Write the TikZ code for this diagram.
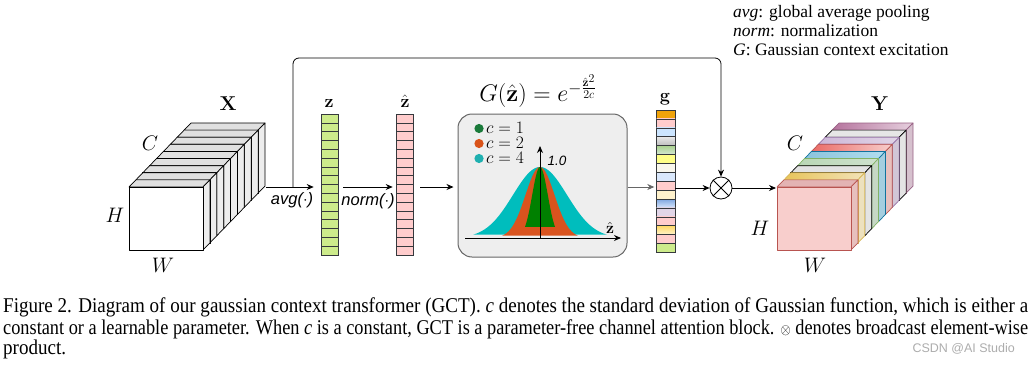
\RequirePackage{fix-cm}
\documentclass[tikz,border=0pt]{standalone}
\usepackage{amsmath}
\usepackage[no-math]{fontspec}
\setmainfont{Liberation Serif}
\newfontfamily\lsans{Liberation Sans}
\usetikzlibrary{arrows.meta,shadings}
\definecolor{zgreen}{HTML}{CDEB8B}
\definecolor{zpink}{HTML}{FFCCCC}
\definecolor{cellstroke}{HTML}{36393D}
\definecolor{boxfill}{HTML}{EEEEEE}
\definecolor{boxline}{HTML}{666666}
\definecolor{gcyan}{HTML}{00BDBD}
\definecolor{gorange}{HTML}{D9531E}
\definecolor{ggreen}{HTML}{008000}
\definecolor{dgreen}{HTML}{1A7A3A}
\definecolor{dorange}{HTML}{D95319}
\definecolor{dteal}{HTML}{1FB0B0}
\tikzset{
  conn/.style={line width=0.8pt,-{Stealth[length=7pt,width=6pt]}},
  lbl/.style={inner sep=0pt},
  cellbox/.style={draw=cellstroke,line width=0.6pt},
  facelw/.style={line width=0.7pt,line join=round},
}
% slab: #1 x0, #2 y0, #3 k, #4 fill, #5 stroke, #6 top-left colour, #7 top-right colour (all HTML)
\newcommand\cslab[7]{%
  \definecolor{csfill}{HTML}{#4}%
  \definecolor{csline}{HTML}{#5}%
  \definecolor{cstl}{HTML}{#6}%
  \definecolor{cstr}{HTML}{#7}%
  \pgfmathsetmacro\cslx{#1+#3*6.889}%
  \pgfmathsetmacro\csly{#2-#3*7.111}%
  \shadedraw[facelw,draw=csline,left color=cstl,right color=cstr] (\cslx,\csly) -- ++(74,0) -- ++(6.889,-7.111) -- ++(-74,0) -- cycle;
  \filldraw[facelw,draw=csline,fill=csfill!93!black] (\cslx+74,\csly) -- ++(0,63) -- ++(6.889,-7.111) -- ++(0,-63) -- cycle;
  \filldraw[facelw,draw=csline,fill=csfill] (\cslx,\csly) rectangle ++(74,63);
}
\newlength\capw
\newlength\capwb
\newcommand\capfont{\fontsize{21}{24}\selectfont}
\newcommand\capA{Figure 2. Diagram of our gaussian context transformer (GCT). \textit{c} denotes the standard deviation of Gaussian function, which is either a}
\newcommand\capB{constant or a learnable parameter. When \textit{c} is a constant, GCT is a parameter-free channel attention block. {\fontsize{15}{16}\selectfont$\otimes$} denotes broadcast element-wise}
\begin{document}
\settowidth\capw{\capfont\capA}%
\settowidth\capwb{\capfont\capB}%
\pgfmathsetmacro\capsx{1025/\capw}%
\pgfmathsetmacro\capsxb{1025/\capwb}%
\begin{tikzpicture}[x=1pt,y=-1pt]
\useasboundingbox[fill=white] (0,0) rectangle (1032,364);

% ---------- X cube ----------
\foreach \k in {8,7,...,0}{\cslab{129}{187}{\k}{FFFFFF}{000000}{E0E0E0}{E0E0E0}}
\node[lbl,font=\fontsize{20}{24}\selectfont] (Xl) at (228,104) {$\mathbf{X}$};
\node[lbl,font=\fontsize{21}{24}\selectfont] (XC) at (150,143) {$C$};
\node[lbl,font=\fontsize{21}{24}\selectfont] (XH) at (115,215) {$H$};
\node[lbl,font=\fontsize{21}{24}\selectfont] (XW) at (163,265) {$W$};
\coordinate (xout) at (266,187);
\coordinate (branch) at (293,187);

% ---------- z vector ----------
\node[cellbox,fill=zgreen,minimum width=17pt,minimum height=141pt,inner sep=0pt] (z) at (329.5,184.5) {};
\foreach \i in {1,...,15}{\draw[cellstroke,line width=0.6pt] (321,114+\i*8.8125) -- (338,114+\i*8.8125);}
\node[lbl,font=\fontsize{18}{20}\selectfont] (zl) at (329,103) {$\mathbf{z}$};

% ---------- zhat vector ----------
\node[cellbox,fill=zpink,minimum width=17pt,minimum height=141pt,inner sep=0pt] (zh) at (404.5,184.5) {};
\foreach \i in {1,...,15}{\draw[cellstroke,line width=0.6pt] (396,114+\i*8.8125) -- (413,114+\i*8.8125);}
\node[lbl,font=\fontsize{18}{20}\selectfont] (zhl) at (405,101) {$\hat{\mathbf{z}}$};

% ---------- arrows 1 ----------
\draw[conn,shorten >=7pt] (xout) -- (xout -| z.west);
\node[lbl,font=\lsans\itshape\fontsize{16.5}{18}\selectfont] (avgl) at (292,200) {avg($\cdot$)};
\draw[conn,shorten <=5pt,shorten >=3pt] (z.east |- xout) -- (zh.west |- xout);
\node[lbl,font=\lsans\itshape\fontsize{16.5}{18}\selectfont] (norml) at (368,201) {norm($\cdot$)};

% ---------- Gaussian box ----------
\node[draw=boxline,fill=boxfill,line width=1pt,rounded corners=14pt,minimum width=169pt,minimum height=143pt,inner sep=0pt] (gbox) at (542.5,185.5) {};
\draw[conn,shorten <=7pt,shorten >=4pt] (zh.east |- xout) -- (gbox.west |- xout);
\node[lbl,font=\fontsize{24}{28}\selectfont] (eq) at (538,91) {$G(\hat{\mathbf{z}})=e^{-\frac{\hat{\mathbf{z}}^2}{2c}}$};

\fill[gcyan] plot[domain=-67:67,samples=90] ({540+\x},{238-71*exp(-(\x*\x)/(2*27*27))}) -- cycle;
\fill[gorange] plot[domain=-38:38,samples=80] ({540+\x},{238-71*exp(-(\x*\x)/(2*14.5*14.5))}) -- cycle;
\fill[ggreen] plot[domain=-15:15,samples=60] ({540+\x},{238-71*exp(-(\x*\x)/(2*7.8*7.8))}) -- cycle;
\coordinate (ax0) at (465,238);
\coordinate (ax1) at (621,238);
\coordinate (ay0) at (540,238);
\coordinate (ay1) at (540,146);
\draw[line width=1pt,-{Stealth[length=7pt,width=6pt]}] (ax0) -- (ax1);
\draw[line width=1pt,-{Stealth[length=7pt,width=6pt]}] (ay0) -- (ay1);
\node[lbl,font=\lsans\itshape\fontsize{13.5}{15}\selectfont] (one) at (557,161) {1.0};
\node[lbl,font=\fontsize{16}{17}\selectfont] (zax) at (610,228) {$\hat{\mathbf{z}}$};
\fill[dgreen] (479,128.5) circle (4.6pt);
\fill[dorange] (479,143.5) circle (4.6pt);
\fill[dteal] (479,158.5) circle (4.6pt);
\node[lbl,anchor=west,font=\fontsize{17.5}{18}\selectfont] (c1) at (486,128) {$c=1$};
\node[lbl,anchor=west,font=\fontsize{17.5}{18}\selectfont] (c2) at (486,143) {$c=2$};
\node[lbl,anchor=west,font=\fontsize{17.5}{18}\selectfont] (c4) at (486,158) {$c=4$};

% ---------- g vector ----------
\foreach \i/\ct/\cb in {0/F0A30A/F0A30A,1/FFCCCC/FFCCCC,2/CCE5FF/CCE5FF,3/E8E8E8/BDBDBD,4/A9D18E/D5E8D4,5/FFFF88/FFFF88,6/F9F7ED/F9F7ED,7/DAE8FC/DAE8FC,8/FFCCCC/FFCCCC,9/FFF2CC/FFF2CC,10/7EA6E0/DAE8FC,11/E1D5E7/E1D5E7,12/FFCCCC/FFCCCC,13/FFD966/FFF2CC,14/FFCCCC/FFCCCC,15/CDEB8B/CDEB8B}{
  \definecolor{gct}{HTML}{\ct}\definecolor{gcb}{HTML}{\cb}
  \shadedraw[cellbox,top color=gct,bottom color=gcb] (656.5,110+\i*8.9) rectangle ++(18.5,8.9);
}
\node[lbl,minimum width=18.5pt,minimum height=142.4pt] (g) at (665.75,181.2) {};
\node[lbl,font=\fontsize{18}{20}\selectfont] (gl) at (665,99) {$\mathbf{g}$};
\draw[conn,draw=boxline,shorten >=2pt] (gbox.east |- xout) -- (g.west |- xout);

% ---------- otimes ----------
\node[draw,circle,line width=0.8pt,minimum size=22pt,inner sep=0pt] (ot) at (721,188) {};
\draw[line width=0.8pt] (ot.north west) -- (ot.south east) (ot.north east) -- (ot.south west);
\draw[conn] (g.east |- ot) -- (ot.west);
\draw[conn,rounded corners=6pt] (branch) -- (293,58) -- (721,58) -- (ot.north);

% ---------- Y cube ----------
\cslab{777}{187}{8}{E6D0DE}{996185}{B5739D}{E6D0DE}
\cslab{777}{187}{7}{F5F5F5}{000000}{E6E6E6}{E6E6E6}
\cslab{777}{187}{6}{E1D5E7}{9673A6}{CDB8D8}{E1D5E7}
\cslab{777}{187}{5}{F8CECC}{B85450}{EA6B66}{F8CECC}
\cslab{777}{187}{4}{B1DDF0}{10739E}{8CC4DC}{B1DDF0}
\cslab{777}{187}{3}{D5E8D4}{82B366}{B9D7B5}{CFE2CE}
\cslab{777}{187}{2}{F5F5F5}{000000}{E3E3E3}{E3E3E3}
\cslab{777}{187}{1}{FFF2CC}{D6B656}{E8C45A}{F2E3B8}
\cslab{777}{187}{0}{F8CECC}{B85450}{E3B3B3}{E3B3B3}
\coordinate (yin) at (777,188);
\draw[conn,shorten >=1pt] (ot.east) -- (yin);
\node[lbl,font=\fontsize{20}{24}\selectfont] (Yl) at (880,104) {$\mathbf{Y}$};
\node[lbl,font=\fontsize{21}{24}\selectfont] (YC) at (795,143) {$C$};
\node[lbl,font=\fontsize{21}{24}\selectfont] (YH) at (760,228) {$H$};
\node[lbl,font=\fontsize{21}{24}\selectfont] (YW) at (815,265) {$W$};

% ---------- legend ----------
\node[lbl,anchor=base west,font=\fontsize{17.5}{18}\selectfont] (lg1) at (733,17) {\textit{avg}: global average pooling};
\node[lbl,anchor=base west,font=\fontsize{17.5}{18}\selectfont] (lg2) at (733,36) {\textit{norm}: normalization};
\node[lbl,anchor=base west,font=\fontsize{17.5}{18}\selectfont] (lg3) at (733,55) {\textit{G}: Gaussian context excitation};

% ---------- caption ----------
\node[lbl,anchor=base west,font=\capfont] (cap1) at (3,312) {\scalebox{\capsx}[1]{\capA}};
\node[lbl,anchor=base west,font=\capfont] (cap2) at (3,334) {\scalebox{\capsxb}[1]{\capB}};
\node[lbl,anchor=base west,font=\capfont] (cap3) at (3,354) {\scalebox{\capsx}[1]{product.}};
\node[lbl,anchor=base east,font=\lsans\fontsize{12.5}{14}\selectfont,text=black!32] (wm) at (1015,352) {CSDN @AI Studio};
\end{tikzpicture}
\end{document}
